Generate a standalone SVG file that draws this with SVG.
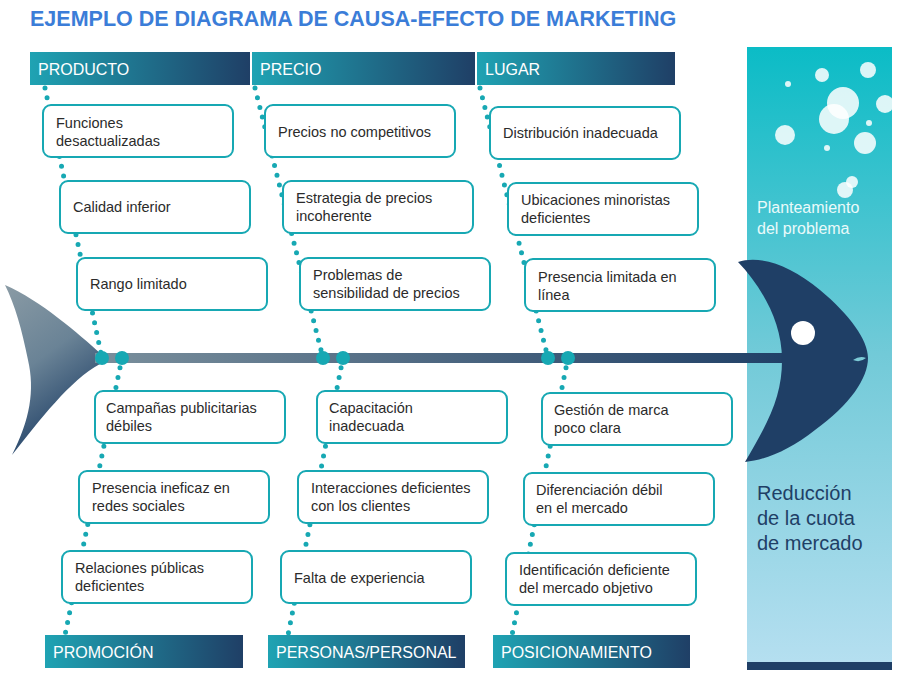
<svg xmlns="http://www.w3.org/2000/svg" width="900" height="675" viewBox="0 0 900 675">
<defs>
<linearGradient id="hdr" x1="0" x2="1" y1="0" y2="0"><stop offset="0" stop-color="#1fa3b3"/><stop offset="1" stop-color="#1f3f66"/></linearGradient>
<linearGradient id="panel" x1="0" x2="0" y1="0" y2="1"><stop offset="0" stop-color="#0bbcc6"/><stop offset="0.5" stop-color="#72cad8"/><stop offset="1" stop-color="#b5dff0"/></linearGradient>
<linearGradient id="tail" x1="0" x2="0.4" y1="0" y2="1"><stop offset="0" stop-color="#8a9ba5"/><stop offset="0.5" stop-color="#6a8396"/><stop offset="1" stop-color="#1f3f66"/></linearGradient>
<linearGradient id="spine" x1="0" x2="1" y1="0" y2="0"><stop offset="0" stop-color="#7a8f9c"/><stop offset="1" stop-color="#1f3f66"/></linearGradient>
</defs>
<style>
.box{fill:#fff;stroke:#17a8b3;stroke-width:2}
.t{font-family:"Liberation Sans",Arial,sans-serif;font-size:14.5px;fill:#2b2b2b}
.h{font-family:"Liberation Sans",Arial,sans-serif;font-size:16px;fill:#fff}
.dot{stroke:#17a8b3;stroke-width:5;stroke-linecap:round;stroke-dasharray:0 10;fill:none}
.big{fill:#17a8b3}
.bub{fill:#fff;opacity:0.85}
</style>
<text x="30" y="26" font-family="Liberation Sans,Arial,sans-serif" font-size="21.5" font-weight="bold" fill="#3b7dd8">EJEMPLO DE DIAGRAMA DE CAUSA-EFECTO DE MARKETING</text>
<rect x="747" y="47" width="145" height="616" fill="url(#panel)"/>
<rect x="747" y="662" width="145" height="8" fill="#1f3f66"/>
<g id="bubbles">
<circle cx="822" cy="75" r="7" class="bub"/><circle cx="868" cy="70" r="8" class="bub"/><circle cx="788" cy="84" r="3" class="bub"/>
<circle cx="843" cy="103" r="16" class="bub"/><circle cx="834" cy="119" r="15" class="bub"/><circle cx="885" cy="104" r="9" class="bub"/>
<circle cx="869" cy="123" r="3" class="bub"/><circle cx="865" cy="143" r="11" class="bub"/><circle cx="827" cy="148" r="3" class="bub"/>
<circle cx="785" cy="135" r="10" class="bub"/><circle cx="845" cy="190" r="8" class="bub"/><circle cx="852" cy="182" r="6" class="bub"/>
</g>
<text x="757" y="213" font-family="Liberation Sans,Arial,sans-serif" font-size="16" fill="#eafafa">Planteamiento</text>
<text x="757" y="234" font-family="Liberation Sans,Arial,sans-serif" font-size="16" fill="#eafafa">del problema</text>
<text x="757" y="500" font-family="Liberation Sans,Arial,sans-serif" font-size="20" fill="#1f3f66">Reducción</text>
<text x="757" y="525" font-family="Liberation Sans,Arial,sans-serif" font-size="20" fill="#1f3f66">de la cuota</text>
<text x="757" y="550" font-family="Liberation Sans,Arial,sans-serif" font-size="20" fill="#1f3f66">de mercado</text>
<g id="fish">
<path d="M5,285 C40,300 80,335 100,353 L100,364 C70,380 40,420 12,455 C30,420 35,390 28,360 C22,330 15,305 5,285 Z" fill="url(#tail)"/>
<rect x="95" y="353" width="700" height="10" fill="url(#spine)"/>
<path d="M738,262 C760,255 790,265 820,290 C850,315 868,340 868,358 C868,378 850,405 815,430 C790,450 765,460 745,462 C770,420 782,395 782,360 C782,320 760,285 738,262 Z" fill="#1f3f66"/>
<circle cx="803" cy="333" r="12" fill="#fff"/>
<path d="M853,360 Q860,355 866,358 Q860,363 853,360 Z" fill="#7ccad6"/>
</g>
<g id="connectors">
<path class="dot" d="M45,88 L102,358"/><path class="dot" d="M122,358 L65,635"/>
<path class="dot" d="M255,88 L323,358"/><path class="dot" d="M343,358 L288,635"/>
<path class="dot" d="M480,88 L548,358"/><path class="dot" d="M568,358 L512,635"/>
<circle class="big" cx="102" cy="358" r="7"/><circle class="big" cx="122" cy="358" r="7"/>
<circle class="big" cx="323" cy="358" r="7"/><circle class="big" cx="343" cy="358" r="7"/>
<circle class="big" cx="548" cy="358" r="7"/><circle class="big" cx="568" cy="358" r="7"/>
</g>
<g id="h-producto"><path d="M30,52 H250 V85 H30 Z" fill="url(#hdr)"/><text class="h" x="38" y="75">PRODUCTO</text></g>
<g id="h-precio"><path d="M252,52 H475 V85 H252 Z" fill="url(#hdr)"/><text class="h" x="260" y="75">PRECIO</text></g>
<g id="h-lugar"><path d="M477,52 H675 V85 H477 Z" fill="url(#hdr)"/><text class="h" x="485" y="75">LUGAR</text></g>
<g id="h-promocion"><path d="M45,635 H243 V668 H45 Z" fill="url(#hdr)"/><text class="h" x="53" y="658">PROMOCIÓN</text></g>
<g id="h-personas"><path d="M268,635 H465 V668 H268 Z" fill="url(#hdr)"/><text class="h" x="276" y="658">PERSONAS/PERSONAL</text></g>
<g id="h-posicionamiento"><path d="M493,635 H690 V668 H493 Z" fill="url(#hdr)"/><text class="h" x="501" y="658">POSICIONAMIENTO</text></g>
<g id="b1"><rect class="box" x="43" y="105" width="190" height="52" rx="8"/><text class="t" x="56" y="128">Funciones</text><text class="t" x="56" y="146">desactualizadas</text></g>
<g id="b2"><rect class="box" x="60" y="181" width="190" height="52" rx="8"/><text class="t" x="73" y="212">Calidad inferior</text></g>
<g id="b3"><rect class="box" x="77" y="258" width="190" height="52" rx="8"/><text class="t" x="90" y="289">Rango limitado</text></g>
<g id="b4"><rect class="box" x="265" y="105" width="190" height="52" rx="8"/><text class="t" x="278" y="137">Precios no competitivos</text></g>
<g id="b5"><rect class="box" x="283" y="181" width="190" height="52" rx="8"/><text class="t" x="296" y="203">Estrategia de precios</text><text class="t" x="296" y="221">incoherente</text></g>
<g id="b6"><rect class="box" x="300" y="258" width="190" height="52" rx="8"/><text class="t" x="313" y="280">Problemas de</text><text class="t" x="313" y="298">sensibilidad de precios</text></g>
<g id="b7"><rect class="box" x="490" y="107" width="190" height="52" rx="8"/><text class="t" x="503" y="138">Distribución inadecuada</text></g>
<g id="b8"><rect class="box" x="508" y="183" width="190" height="52" rx="8"/><text class="t" x="521" y="205">Ubicaciones minoristas</text><text class="t" x="521" y="223">deficientes</text></g>
<g id="b9"><rect class="box" x="525" y="259" width="190" height="52" rx="8"/><text class="t" x="538" y="282">Presencia limitada en</text><text class="t" x="538" y="300">línea</text></g>
<g id="b10"><rect class="box" x="95" y="391" width="190" height="52" rx="8"/><text class="t" x="106" y="413">Campañas publicitarias</text><text class="t" x="106" y="431">débiles</text></g>
<g id="b11"><rect class="box" x="79" y="471" width="190" height="52" rx="8"/><text class="t" x="92" y="493">Presencia ineficaz en</text><text class="t" x="92" y="511">redes sociales</text></g>
<g id="b12"><rect class="box" x="62" y="551" width="190" height="52" rx="8"/><text class="t" x="75" y="573">Relaciones públicas</text><text class="t" x="75" y="591">deficientes</text></g>
<g id="b13"><rect class="box" x="317" y="391" width="190" height="52" rx="8"/><text class="t" x="329" y="413">Capacitación</text><text class="t" x="329" y="431">inadecuada</text></g>
<g id="b14"><rect class="box" x="298" y="471" width="190" height="52" rx="8"/><text class="t" x="311" y="493">Interacciones deficientes</text><text class="t" x="311" y="511">con los clientes</text></g>
<g id="b15"><rect class="box" x="281" y="551" width="190" height="52" rx="8"/><text class="t" x="294" y="583">Falta de experiencia</text></g>
<g id="b16"><rect class="box" x="542" y="393" width="190" height="52" rx="8"/><text class="t" x="554" y="415">Gestión de marca</text><text class="t" x="554" y="433">poco clara</text></g>
<g id="b17"><rect class="box" x="524" y="473" width="190" height="52" rx="8"/><text class="t" x="536" y="495">Diferenciación débil</text><text class="t" x="536" y="513">en el mercado</text></g>
<g id="b18"><rect class="box" x="506" y="553" width="190" height="52" rx="8"/><text class="t" x="519" y="575">Identificación deficiente</text><text class="t" x="519" y="593">del mercado objetivo</text></g>
</svg>
